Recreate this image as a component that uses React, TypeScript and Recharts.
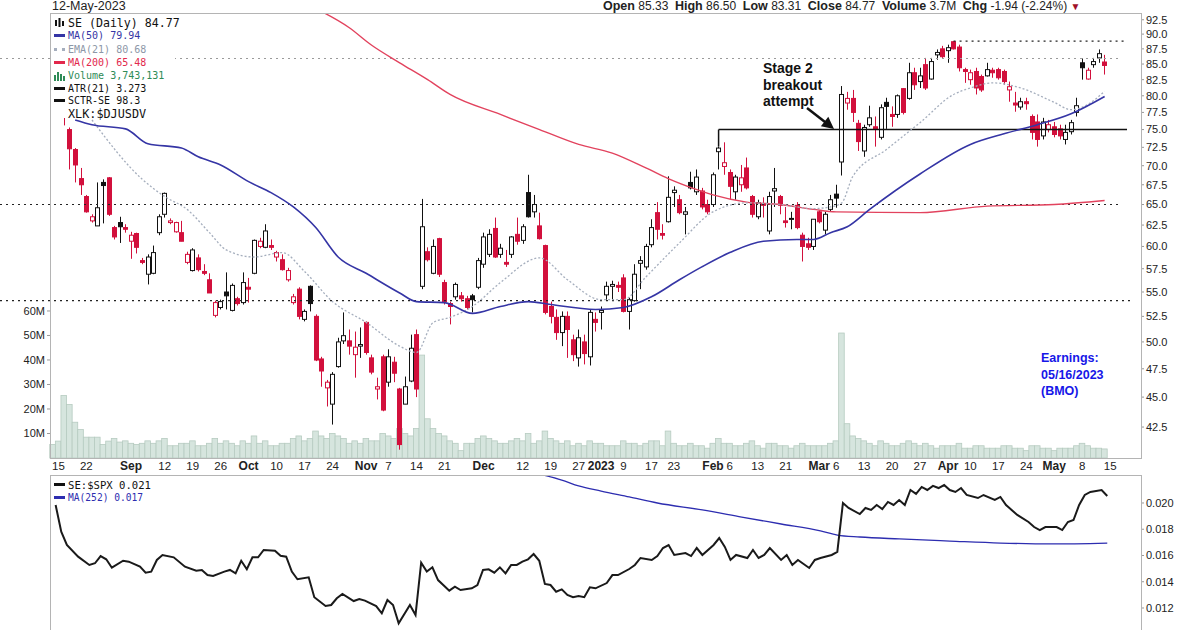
import React from 'react';
import { ComposedChart, LineChart, Bar, Line, XAxis, YAxis, ReferenceLine } from 'recharts';

const FONT = '"Liberation Sans", Arial, sans-serif';
const MONO = '"DejaVu Sans Mono", monospace';

// trading days shown on the chart (last six are the empty space to the right)
const monthDays: [string, number[]][] = [
  ['2022-08', [12, 15, 16, 17, 18, 19, 22, 23, 24, 25, 26, 29, 30, 31]],
  ['2022-09', [1, 2, 6, 7, 8, 9, 12, 13, 14, 15, 16, 19, 20, 21, 22, 23, 26, 27, 28, 29, 30]],
  ['2022-10', [3, 4, 5, 6, 7, 10, 11, 12, 13, 14, 17, 18, 19, 20, 21, 24, 25, 26, 27, 28, 31]],
  ['2022-11', [1, 2, 3, 4, 7, 8, 9, 10, 11, 14, 15, 16, 17, 18, 21, 22, 23, 25, 28, 29, 30]],
  ['2022-12', [1, 2, 5, 6, 7, 8, 9, 12, 13, 14, 15, 16, 19, 20, 21, 22, 23, 27, 28, 29, 30]],
  ['2023-01', [3, 4, 5, 6, 9, 10, 11, 12, 13, 17, 18, 19, 20, 23, 24, 25, 26, 27, 30, 31]],
  ['2023-02', [1, 2, 3, 6, 7, 8, 9, 10, 13, 14, 15, 16, 17, 21, 22, 23, 24, 27, 28]],
  ['2023-03', [1, 2, 3, 6, 7, 8, 9, 10, 13, 14, 15, 16, 17, 20, 21, 22, 23, 24, 27, 28, 29, 30, 31]],
  ['2023-04', [3, 4, 5, 6, 10, 11, 12, 13, 14, 17, 18, 19, 20, 21, 24, 25, 26, 27, 28]],
  ['2023-05', [1, 2, 3, 4, 5, 8, 9, 10, 11, 12, 15, 16, 17, 18, 19, 22]],
];

const opens = [
  88.0, 88.3, 83.0, 75.0, 72.2, 68.3, 66.0, 63.0, 62.4, 67.8,
  68.4, 62.2, 62.8, 62.2, 60.6, 61.5, 58.4, 56.9, 57.0, 61.6,
  63.8, 62.8, 61.7, 61.6, 58.2, 57.3, 58.7, 57.2, 56.3, 52.6,
  53.4, 55.0, 53.1, 54.3, 53.9, 55.5, 57.0, 60.0, 59.9, 60.1,
  58.8, 58.5, 56.3, 53.9, 55.3, 52.2, 55.6, 52.5, 48.4, 45.8,
  44.4, 47.7, 50.1, 50.1, 48.8, 49.6, 51.9, 48.5, 45.7, 48.6,
  46.3, 48.1, 45.7, 44.4, 46.4, 50.7, 55.6, 59.4, 57.0, 60.9,
  56.0, 53.8, 54.5, 54.6, 54.3, 54.6, 55.5, 58.0, 59.1, 62.1,
  59.1, 58.2, 59.1, 61.4, 60.7, 66.5, 64.1, 62.4, 60.1, 53.5,
  52.4, 50.9, 52.5, 50.2, 48.5, 50.0, 48.6, 52.2, 52.9, 54.7,
  55.6, 55.7, 56.5, 53.0, 54.1, 58.1, 57.7, 60.2, 64.0, 61.5,
  62.9, 66.5, 65.6, 63.8, 67.8, 66.6, 66.7, 65.0, 65.0, 71.9,
  69.9, 69.1, 66.6, 67.5, 69.7, 66.0, 63.5, 65.1, 61.8, 66.7,
  66.0, 63.0, 63.2, 64.9, 61.3, 60.3, 60.0, 64.1, 61.9, 64.4,
  66.3, 70.5, 78.9, 79.6, 75.9, 72.0, 75.7, 75.4, 73.9, 79.0,
  77.2, 77.2, 81.1, 79.6, 83.6, 82.2, 84.9, 82.6, 86.5, 87.5,
  87.2, 88.7, 87.8, 84.1, 82.5, 83.8, 83.0, 83.1, 84.0, 84.1,
  83.8, 80.9, 78.9, 78.3, 79.1, 76.9, 76.1, 74.1, 75.0, 75.4,
  75.1, 73.6, 74.7, 77.5, 85.2, 82.6, 84.9, 86.0, 85.33,
];

const highs = [
  89.3, 88.9, 84.0, 75.3, 72.4, 69.7, 66.2, 63.8, 67.8, 68.2,
  68.5, 62.4, 63.5, 62.6, 61.7, 61.6, 58.7, 59.1, 60.1, 63.8,
  66.5, 63.3, 62.9, 63.0, 59.4, 59.8, 59.1, 58.0, 57.0, 54.1,
  54.2, 57.1, 55.9, 54.5, 57.1, 56.5, 60.8, 61.0, 62.6, 60.8,
  59.5, 59.1, 57.6, 54.8, 55.5, 53.2, 55.7, 52.7, 48.6, 46.5,
  47.2, 50.4, 52.9, 51.2, 51.0, 51.4, 52.0, 48.8, 46.7, 48.8,
  49.3, 48.6, 45.8, 46.8, 50.7, 51.2, 65.7, 59.9, 60.8, 61.0,
  56.3, 54.0, 56.0, 55.0, 54.6, 54.8, 58.7, 61.6, 62.0, 63.4,
  60.3, 59.6, 61.2, 63.4, 62.6, 68.8, 66.2, 64.0, 60.2, 54.0,
  53.2, 53.0, 53.0, 50.7, 51.2, 50.7, 53.2, 52.9, 53.5, 56.1,
  56.2, 56.1, 56.9, 54.4, 58.0, 58.9, 60.3, 63.2, 65.3, 62.6,
  68.6, 67.3, 66.2, 64.7, 69.2, 69.5, 67.1, 65.6, 69.1, 72.6,
  73.2, 69.5, 68.8, 70.1, 71.1, 66.2, 65.6, 65.9, 66.6, 69.7,
  66.2, 64.7, 64.1, 65.3, 61.6, 61.0, 63.2, 64.3, 64.1, 66.2,
  67.5, 81.5, 80.6, 80.9, 76.4, 75.7, 78.5, 76.9, 78.7, 79.7,
  78.4, 80.2, 81.2, 85.2, 84.4, 84.4, 86.0, 86.0, 87.4, 88.0,
  88.2, 88.8, 88.2, 84.4, 84.1, 84.4, 83.3, 85.2, 84.4, 84.4,
  84.1, 82.2, 80.6, 79.7, 79.7, 77.2, 77.2, 76.7, 76.4, 76.1,
  75.7, 75.7, 76.4, 79.7, 85.9, 84.4, 86.0, 87.4, 86.5,
];

const lows = [
  86.9, 86.6, 75.6, 69.5, 67.8, 66.2, 64.0, 62.8, 62.4, 62.7,
  63.6, 60.8, 60.4, 61.6, 58.6, 59.2, 58.0, 55.8, 56.9, 61.3,
  63.4, 62.6, 61.6, 60.6, 58.0, 57.2, 57.2, 56.8, 54.9, 52.4,
  53.2, 53.2, 53.0, 53.6, 53.7, 53.9, 56.9, 59.8, 59.8, 59.6,
  58.3, 57.3, 56.1, 53.7, 52.2, 52.0, 53.0, 48.2, 45.9, 44.2,
  42.7, 47.6, 49.8, 48.8, 46.7, 48.5, 48.8, 47.0, 44.8, 43.8,
  45.9, 46.3, 40.7, 44.4, 46.3, 45.0, 55.3, 58.3, 56.9, 56.6,
  53.7, 51.7, 54.2, 54.0, 53.2, 52.9, 55.3, 57.6, 58.8, 58.7,
  58.7, 57.7, 58.7, 60.2, 60.3, 63.4, 63.4, 60.8, 52.7, 51.8,
  50.2, 49.6, 48.5, 48.2, 47.7, 47.9, 47.8, 51.0, 51.2, 54.2,
  54.2, 55.0, 52.9, 51.2, 54.0, 55.3, 57.4, 59.9, 60.8, 60.8,
  62.8, 64.7, 63.8, 61.4, 66.9, 66.2, 64.4, 63.8, 64.7, 69.5,
  68.8, 65.6, 65.6, 66.6, 66.9, 63.4, 63.2, 63.4, 61.4, 64.7,
  63.8, 62.2, 62.0, 62.0, 58.3, 59.6, 59.6, 62.7, 61.4, 64.1,
  64.6, 68.7, 77.9, 76.1, 72.0, 71.2, 75.4, 72.6, 73.6, 75.1,
  75.4, 76.7, 77.2, 79.4, 80.9, 81.2, 80.9, 82.5, 85.7, 86.0,
  85.2, 87.4, 83.8, 82.0, 81.7, 80.2, 80.6, 83.0, 82.8, 82.5,
  81.7, 79.1, 77.6, 77.9, 77.9, 73.6, 72.6, 73.6, 74.6, 73.9,
  73.6, 72.9, 74.3, 76.9, 82.5, 82.5, 84.4, 85.2, 83.31,
];

const closes = [
  88.6, 87.2, 77.0, 72.3, 70.1, 67.5, 64.1, 63.5, 64.6, 67.4,
  63.8, 61.1, 62.3, 62.0, 61.3, 59.9, 58.2, 58.8, 59.3, 63.5,
  66.4, 63.0, 62.8, 60.6, 59.1, 59.6, 57.4, 57.0, 54.9, 53.9,
  54.0, 54.6, 55.7, 53.8, 56.0, 55.3, 60.7, 60.6, 61.8, 59.9,
  59.3, 57.4, 57.3, 54.5, 52.5, 53.0, 53.8, 48.3, 47.3, 46.3,
  47.0, 50.0, 50.6, 49.6, 49.5, 49.75, 49.0, 47.2, 45.9, 43.9,
  48.6, 47.1, 41.1, 45.9, 49.4, 45.7, 62.3, 58.5, 60.0, 56.9,
  54.0, 53.5, 55.8, 54.3, 53.4, 54.2, 58.4, 61.1, 61.4, 58.8,
  59.8, 58.0, 61.1, 60.6, 62.3, 63.5, 65.0, 60.9, 52.9, 52.5,
  50.9, 52.5, 51.2, 48.8, 50.4, 48.9, 52.9, 51.9, 53.1, 55.6,
  55.8, 55.5, 53.0, 54.2, 56.9, 58.4, 60.0, 62.2, 62.0, 61.3,
  65.9, 66.8, 64.0, 64.1, 67.1, 68.5, 64.7, 64.1, 68.8, 72.4,
  70.4, 67.3, 68.5, 68.4, 67.1, 63.8, 65.2, 64.9, 66.0, 67.0,
  64.9, 62.8, 63.3, 62.2, 60.0, 59.9, 63.2, 62.9, 63.8, 65.6,
  65.8, 80.2, 79.6, 77.5, 73.3, 75.3, 76.7, 75.1, 78.2, 78.4,
  76.9, 80.0, 77.5, 83.6, 81.7, 83.1, 81.2, 85.4, 86.9, 86.2,
  87.7, 87.5, 84.4, 83.8, 83.6, 81.2, 80.9, 84.1, 83.6, 82.8,
  82.2, 81.4, 78.6, 79.1, 78.8, 74.6, 73.6, 76.1, 75.7, 74.3,
  74.1, 74.6, 76.0, 78.5, 84.4, 84.0, 85.4, 86.7, 84.77,
];

// volume in millions of shares
const volumesM = [
  5.5, 6.9, 25.5, 21.8, 14.6, 11.6, 8.5, 8.5, 8.5, 5.5,
  6.9, 8, 6.5, 7, 6, 5.5, 6, 7, 6, 7,
  8, 5, 5, 6, 6, 7, 5, 5, 6, 8,
  6, 7, 6, 5, 7, 6, 9, 6, 7, 5,
  5, 6, 6, 8, 9, 7, 8, 11, 9, 8,
  10, 9, 8, 6, 7, 6, 8, 7, 7, 10,
  9, 8, 12, 10, 9, 12, 42, 16, 12, 10,
  9, 7, 6, 3, 6, 6, 8, 9, 8, 7,
  6, 6, 7, 8, 7, 10, 6, 7, 11, 8,
  7, 6, 7, 5, 6, 5, 7, 6, 6, 5,
  5, 5, 7, 6, 6, 5, 6, 7, 7, 5,
  11, 6, 5, 5, 6, 5, 5, 4, 6, 8,
  6, 6, 5, 5, 6, 7, 5, 4, 6, 6,
  5, 5, 4, 5, 6, 5, 5, 5, 5, 6,
  7, 51, 14, 9, 8, 7, 6, 5, 7, 6,
  5, 5, 6, 7, 6, 5, 6, 5, 4, 5,
  5, 5, 6, 4, 4, 5, 5, 4, 4, 4,
  5, 5, 4, 4, 3, 5, 5, 4, 4, 3,
  4, 4, 4, 5, 6, 5, 4, 4, 3.7,
];

// overlays read at [trading-day number, value]
const ma50Points: [number, number][] = [
  [4, 76.4], [7, 75.7], [13, 75.1], [17, 73.0], [23, 72.4], [26, 71.2], [30, 70.1], [35, 67.9],
  [39, 66.5], [43, 64.7], [47, 62.2], [51, 58.8], [56, 57.0], [62, 54.9], [65, 54.0], [70, 53.9],
  [75, 52.8], [80, 53.5], [85, 54.0], [89, 53.7], [97, 53.2], [102, 53.4], [107, 54.5], [112, 56.3],
  [116, 57.7], [121, 59.3], [127, 60.6], [133, 60.8], [136, 60.8], [139, 61.6], [142, 62.3],
  [146, 64.4], [155, 68.9], [164, 72.9], [170, 74.4], [176, 75.7], [182, 77.3], [188, 79.9],
];
const ema21Points: [number, number][] = [
  [7, 76.4], [16, 68.2], [20, 66.0], [24, 64.4], [28, 61.6], [31, 59.6], [36, 58.8], [41, 59.3],
  [45, 57.2], [50, 54.0], [56, 51.9], [62, 49.6], [65, 49.0], [68, 51.9], [71, 52.4], [75, 53.5],
  [80, 56.0], [87, 58.7], [92, 56.3], [98, 54.2], [102, 54.2], [106, 56.6], [112, 60.4], [118, 64.1],
  [124, 65.2], [130, 65.0], [136, 64.5], [139, 64.7], [141, 65.2], [143, 68.6], [149, 72.2],
  [155, 76.0], [161, 80.2], [164, 81.2], [168, 82.0], [173, 81.2], [179, 79.0], [182, 77.9],
  [185, 78.7], [188, 80.7],
];
const ma200Points: [number, number][] = [
  [46, 95.0], [53, 91.1], [57, 88.1], [62, 85.2], [67, 82.5], [71, 80.2], [80, 77.2], [87, 75.0],
  [94, 72.9], [100, 71.7], [106, 69.7], [110, 68.3], [115, 66.9], [118, 66.2], [124, 65.3],
  [130, 65.0], [136, 64.4], [140, 64.1], [155, 64.0], [167, 64.8], [179, 65.0], [188, 65.5],
];
const ratioPoints: [number, number][] = [
  [1, 0.01985], [2, 0.01781], [3, 0.0168], [5, 0.01591], [7, 0.01528], [8, 0.01541], [9, 0.01596],
  [10, 0.01571], [11, 0.01507], [13, 0.0156], [14, 0.01553], [16, 0.01515], [17, 0.01469],
  [18, 0.01477], [19, 0.01566], [20, 0.01604], [22, 0.01586], [24, 0.01515], [26, 0.01484],
  [27, 0.0149], [28, 0.01451], [29, 0.01444], [31, 0.01477], [32, 0.0149], [33, 0.01464],
  [34, 0.0156], [35, 0.01495], [36, 0.01586], [37, 0.01586], [38, 0.01642], [40, 0.01637],
  [41, 0.01598], [42, 0.01591], [43, 0.01477], [44, 0.01419], [46, 0.01434], [47, 0.01282],
  [49, 0.01215], [50, 0.01223], [51, 0.01274], [52, 0.01307], [54, 0.01253], [55, 0.01269],
  [56, 0.01256], [58, 0.01215], [59, 0.0116], [60, 0.01261], [61, 0.01223], [62, 0.01083],
  [64, 0.01223], [65, 0.01147], [66, 0.01545], [67, 0.01477], [68, 0.0151], [69, 0.01413],
  [71, 0.01332], [72, 0.01362], [73, 0.01337], [75, 0.0135], [76, 0.01375], [77, 0.0149],
  [78, 0.01495], [79, 0.01469], [80, 0.0151], [81, 0.01464], [82, 0.01528], [83, 0.01528],
  [84, 0.01553], [85, 0.01571], [86, 0.01611], [87, 0.0156], [88, 0.01383], [89, 0.01375],
  [90, 0.01324], [91, 0.01342], [92, 0.01299], [93, 0.01282], [94, 0.01291], [95, 0.01282],
  [96, 0.01358], [97, 0.0135], [99, 0.0139], [100, 0.01451], [101, 0.01451], [103, 0.01497],
  [104, 0.01528], [105, 0.01581], [107, 0.01566], [108, 0.01596], [109, 0.01657], [110, 0.0168],
  [111, 0.01604], [113, 0.01619], [114, 0.01596], [115, 0.01657], [116, 0.01604], [118, 0.0168],
  [119, 0.01733], [120, 0.01665], [121, 0.01566], [122, 0.01604], [124, 0.01581], [125, 0.01642],
  [126, 0.01581], [127, 0.01604], [128, 0.01657], [130, 0.01566], [131, 0.01604], [132, 0.01528],
  [133, 0.01566], [135, 0.01505], [136, 0.01566], [137, 0.01581], [139, 0.01604], [140, 0.01627],
  [141, 0.02], [142, 0.01962], [144, 0.01916], [145, 0.01962], [146, 0.01947], [147, 0.01985],
  [148, 0.01954], [149, 0.02008], [150, 0.01985], [151, 0.02023], [152, 0.01985], [153, 0.02099],
  [154, 0.02069], [155, 0.02122], [156, 0.02099], [157, 0.0213], [158, 0.02114], [159, 0.02137],
  [160, 0.02099], [161, 0.02084], [162, 0.02114], [163, 0.02061], [165, 0.02038], [166, 0.02061],
  [168, 0.02023], [169, 0.02046], [170, 0.01985], [171, 0.01947], [172, 0.01909], [174, 0.01855],
  [175, 0.01817], [176, 0.01794], [177, 0.01817], [179, 0.01817], [180, 0.01794], [181, 0.01855],
  [182, 0.0187], [183, 0.01985], [184, 0.02061], [185, 0.02084], [187, 0.02099], [188, 0.02053],
];
const ma252Points: [number, number][] = [
  [86, 0.0223], [91, 0.02175], [94, 0.0213], [98, 0.02091], [103, 0.02046], [108, 0.02],
  [116, 0.01947], [123, 0.01893], [130, 0.0184], [137, 0.01787], [140, 0.01756], [144, 0.01741],
  [151, 0.01726], [160, 0.0171], [169, 0.01695], [178, 0.01688], [188, 0.01695],
];

const priceTicks = [42.5, 45, 47.5, 50, 52.5, 55, 57.5, 60, 62.5, 65, 67.5, 70, 72.5, 75, 77.5, 80, 82.5, 85, 87.5, 90, 92.5];
const volumeTicks = [10, 20, 30, 40, 50, 60];
const ratioTicks = [0.012, 0.014, 0.016, 0.018, 0.02];

const xLabels: [string, string, boolean][] = [
  ['2022-08-15', '15', false], ['2022-08-22', '22', false], ['2022-09-01', 'Sep', true],
  ['2022-09-12', '12', false], ['2022-09-19', '19', false], ['2022-09-26', '26', false],
  ['2022-10-03', 'Oct', true], ['2022-10-10', '10', false], ['2022-10-17', '17', false],
  ['2022-10-24', '24', false], ['2022-11-01', 'Nov', true], ['2022-11-07', '7', false],
  ['2022-11-14', '14', false], ['2022-11-21', '21', false], ['2022-12-01', 'Dec', true],
  ['2022-12-12', '12', false], ['2022-12-19', '19', false], ['2022-12-27', '27', false],
  ['2023-01-03', '2023', true], ['2023-01-09', '9', false], ['2023-01-17', '17', false],
  ['2023-01-23', '23', false], ['2023-02-01', 'Feb', true], ['2023-02-06', '6', false],
  ['2023-02-13', '13', false], ['2023-02-21', '21', false], ['2023-03-01', 'Mar', true],
  ['2023-03-06', '6', false], ['2023-03-13', '13', false], ['2023-03-20', '20', false],
  ['2023-03-27', '27', false], ['2023-04-03', 'Apr', true], ['2023-04-10', '10', false],
  ['2023-04-17', '17', false], ['2023-04-24', '24', false], ['2023-05-01', 'May', true],
  ['2023-05-08', '8', false], ['2023-05-15', '15', false],
];

const dates = monthDays.flatMap(([m, ds]) => ds.map(d => `${m}-${String(d).padStart(2, '0')}`));

const rows: any[] = dates.map((date, i) => ({
  date,
  open: opens[i] ?? null,
  high: highs[i] ?? null,
  low: lows[i] ?? null,
  close: closes[i] ?? null,
  prevClose: i > 0 ? closes[i - 1] : opens[0],
  volume: volumesM[i] ?? null,
  ma50: null, ema21: null, ma200: null, ratio: null, ma252: null,
}));
ma50Points.forEach(([i, v]) => { rows[i].ma50 = v; });
ema21Points.forEach(([i, v]) => { rows[i].ema21 = v; });
ma200Points.forEach(([i, v]) => { rows[i].ma200 = v; });
ratioPoints.forEach(([i, v]) => { rows[i].ratio = v; });
ma252Points.forEach(([i, v]) => { rows[i].ma252 = v; });

const labelMap: Record<string, { text: string; bold: boolean }> = {};
xLabels.forEach(([d, t, b]) => { labelMap[d] = { text: t, bold: b }; });
const tickDates = xLabels.map(l => l[0]);

const RED = '#d2103c';

const Candle = (props: any) => {
  const { x, y, width, height, payload } = props;
  if (!payload || payload.open == null || height == null) return null;
  const { open, close, high, low, prevClose } = payload;
  const top = Math.min(y, y + height);
  const h = Math.abs(height);
  const span = Math.log(high) - Math.log(low) || 1;
  const py = (p: number) => top + (h * (Math.log(high) - Math.log(p))) / span;
  const color = close >= prevClose ? '#111' : RED;
  const hollow = close > open;
  const cx = Math.round(x + width / 2) + 0.5;
  const bTop = py(Math.max(open, close));
  const bBot = py(Math.min(open, close));
  return (
    <g>
      <line x1={cx} x2={cx} y1={top} y2={top + h} stroke={color} strokeWidth={1} />
      <rect x={cx - 2} y={bTop} width={4} height={Math.max(1, bBot - bTop)} fill={hollow ? '#fff' : color} stroke={color} strokeWidth={1} />
    </g>
  );
};

const VolumeBar = (props: any) => {
  const { x, y, width, height } = props;
  if (!height) return null;
  const cx = x + width / 2;
  return <rect x={cx - 2.8} y={y} width={5.6} height={height} fill="#d6e5de" stroke="#b6cbc0" strokeWidth={0.8} />;
};

const DateTick = (props: any) => {
  const { x, y, payload } = props;
  const lab = labelMap[payload.value];
  if (!lab) return null;
  return (
    <text x={x} y={y + 12} textAnchor="middle" fontFamily={FONT} fontSize={lab.bold ? 12 : 11.5}
      fontWeight={lab.bold ? 700 : 400} fill="#222">{lab.text}</text>
  );
};

// dotted guide lines that run in from the left edge of the picture
const LeftExtended = (stroke: string, dash: string) => (p: any) => (
  <line x1={0} y1={p.y1} x2={p.x2} y2={p.y2} stroke={stroke} strokeWidth={1.2} strokeDasharray={dash} />
);

const candleRange = (d: any) => (d.high == null ? null : [d.low, d.high]);

const legendRow = (top: number, color: string, text: string, swatch: React.ReactNode, size = 10) => (
  <div style={{ position: 'absolute', left: 3, top, height: 13, display: 'flex', alignItems: 'center' }}>
    <div style={{ width: 14 }}>{swatch}</div>
    <span style={{ fontFamily: MONO, fontSize: size, color, whiteSpace: 'nowrap' }}>{text}</span>
  </div>
);

const dash = (color: string, dotted = false) => (
  <div style={{ width: 11, height: 0, borderTop: `3px ${dotted ? 'dotted' : 'solid'} ${color}` }} />
);

const lbl = { fontSize: 12.5, fontWeight: 700 } as const;

export default function App() {
  return (
    <div style={{ position: 'absolute', left: 0, top: 0, width: 1200, height: 630, overflow: 'hidden', background: '#fff', fontFamily: FONT }}>
      {/* volume layer */}
      <div style={{ position: 'absolute', left: 0, top: 0 }}>
        <ComposedChart width={1200} height={475} data={rows} margin={{ top: 13, right: 59, bottom: 17, left: 0 }}>
          <XAxis dataKey="date" hide />
          <YAxis yAxisId="vol" orientation="left" width={50} domain={[0, 181.6]} ticks={volumeTicks} interval={0}
            tickFormatter={(v: number) => `${v}M`} axisLine={false} tickSize={3} tickMargin={2}
            tickLine={{ stroke: '#999' }} tick={{ fontSize: 11, fill: '#222', fontFamily: FONT }} />
          <Bar yAxisId="vol" dataKey="volume" shape={VolumeBar} isAnimationActive={false} />
        </ComposedChart>
      </div>

      {/* price layer */}
      <div style={{ position: 'absolute', left: 0, top: 0 }}>
        <ComposedChart width={1200} height={475} data={rows} margin={{ top: 13, right: 0, bottom: 0, left: 50 }}>
          <XAxis dataKey="date" ticks={tickDates} interval={0} height={17} tick={DateTick}
            tickLine={false} axisLine={false} tickSize={0} tickMargin={0} />
          <YAxis yAxisId="price" orientation="right" width={59} scale="log" domain={[40.06, 93.7]} allowDataOverflow
            ticks={priceTicks} interval={0} tickFormatter={(v: number) => v.toFixed(1)} axisLine={false} tickSize={3} tickMargin={2}
            tickLine={{ stroke: '#999' }} tick={{ fontSize: 11, fill: '#222', fontFamily: FONT }} />
          <ReferenceLine yAxisId="price" segment={[{ x: dates[0], y: 85.9 }, { x: dates[191], y: 85.9 }]}
            shape={LeftExtended('#9a9a9a', '2 4')} />
          <ReferenceLine yAxisId="price" segment={[{ x: dates[0], y: 65.0 }, { x: dates[191], y: 65.0 }]}
            shape={LeftExtended('#222', '2 4')} />
          <ReferenceLine yAxisId="price" segment={[{ x: dates[0], y: 54.1 }, { x: dates[193], y: 54.1 }]}
            shape={LeftExtended('#222', '2 4')} />
          <ReferenceLine yAxisId="price" segment={[{ x: dates[161], y: 88.8 }, { x: dates[192], y: 88.8 }]}
            stroke="#222" strokeWidth={1.2} strokeDasharray="2 4" />
          <ReferenceLine yAxisId="price" segment={[{ x: dates[119], y: 75.0 }, { x: dates[192], y: 75.0 }]}
            stroke="#111" strokeWidth={1.5} />
          <ReferenceLine yAxisId="price" segment={[{ x: dates[119], y: 75.0 }, { x: dates[119], y: 72.6 }]}
            stroke="#111" strokeWidth={1.5} />
          <Line yAxisId="price" dataKey="ma200" stroke="#e2435e" strokeWidth={1.4} dot={false} connectNulls type="monotone" isAnimationActive={false} />
          <Line yAxisId="price" dataKey="ema21" stroke="#a5aebd" strokeWidth={1.3} strokeDasharray="2 2" dot={false} connectNulls type="monotone" isAnimationActive={false} />
          <Line yAxisId="price" dataKey="ma50" stroke="#3535a5" strokeWidth={1.6} dot={false} connectNulls type="monotone" isAnimationActive={false} />
          <Bar yAxisId="price" dataKey={candleRange} shape={Candle} isAnimationActive={false} />
        </ComposedChart>
      </div>

      {/* relative strength panel */}
      <div style={{ position: 'absolute', left: 0, top: 475 }}>
        <LineChart width={1200} height={175} data={rows} margin={{ top: 0, right: 0, bottom: 0, left: 50 }}>
          <XAxis dataKey="date" hide />
          <YAxis orientation="right" width={59} domain={[0.0088, 0.022133]} allowDataOverflow ticks={ratioTicks} interval={0}
            tickFormatter={(v: number) => v.toFixed(3)} axisLine={false} tickSize={3} tickMargin={2}
            tickLine={{ stroke: '#999' }} tick={{ fontSize: 11, fill: '#222', fontFamily: FONT }} />
          <Line dataKey="ma252" stroke="#2d2db0" strokeWidth={1.3} dot={false} connectNulls type="monotone" isAnimationActive={false} />
          <Line dataKey="ratio" stroke="#1a1a1a" strokeWidth={2} dot={false} connectNulls isAnimationActive={false} />
        </LineChart>
      </div>

      {/* panel frames */}
      <div style={{ position: 'absolute', left: 50, top: 13, width: 1092, height: 446, border: '1px solid #b4b4b4', boxSizing: 'border-box', pointerEvents: 'none' }} />
      <div style={{ position: 'absolute', left: 50, top: 475, width: 1092, height: 200, border: '1px solid #b4b4b4', boxSizing: 'border-box', pointerEvents: 'none' }} />

      {/* header */}
      <div style={{ position: 'absolute', left: 52, top: 0, fontSize: 12.5, lineHeight: '12px', color: '#222' }}>12-May-2023</div>
      <div style={{ position: 'absolute', left: 603, top: 0, fontSize: 12, lineHeight: '12px', color: '#222', whiteSpace: 'nowrap' }}>
        <span style={lbl}>Open</span> 85.33&nbsp; <span style={lbl}>High</span> 86.50&nbsp; <span style={lbl}>Low</span> 83.31&nbsp;{' '}
        <span style={lbl}>Close</span> 84.77&nbsp; <span style={lbl}>Volume</span> 3.7M&nbsp; <span style={lbl}>Chg</span> -1.94 (-2.24%){' '}
        <span style={{ color: '#a01028', fontSize: 10 }}>▼</span>
      </div>

      {/* price legend */}
      <div style={{ position: 'absolute', left: 51, top: 14, width: 124, height: 104, background: '#fff' }}>
        {legendRow(2, '#111', 'SE (Daily) 84.77', (
          <svg width={11} height={10}><rect x={1} y={2} width={2} height={6} fill="#111" /><rect x={4.5} y={0} width={2} height={9} fill="#111" /><rect x={8} y={3} width={2} height={5} fill="#111" /></svg>
        ), 11.6)}
        {legendRow(15, '#3535a5', 'MA(50) 79.94', dash('#3535a5'))}
        {legendRow(29, '#8d97a7', 'EMA(21) 80.68', dash('#a5aebd', true))}
        {legendRow(42, '#e2284c', 'MA(200) 65.48', dash('#e2284c'))}
        {legendRow(55, '#2e8b57', 'Volume 3,743,131', (
          <svg width={11} height={10}><rect x={0} y={4} width={2} height={6} fill="#2e8b57" /><rect x={3} y={1} width={2} height={9} fill="#2e8b57" /><rect x={6} y={3} width={2} height={7} fill="#2e8b57" /><rect x={9} y={5} width={2} height={5} fill="#2e8b57" /></svg>
        ))}
        {legendRow(68, '#111', 'ATR(21) 3.273', dash('#111'))}
        {legendRow(80, '#111', 'SCTR-SE 98.3', dash('#111'))}
        {legendRow(93, '#111', 'XLK:$DJUSDV', null, 11.8)}
      </div>

      {/* annotations */}
      <div style={{ position: 'absolute', left: 763, top: 60, fontWeight: 700, fontSize: 14, lineHeight: '16.5px', color: '#111' }}>
        Stage 2<br />breakout<br />attempt
      </div>
      <svg style={{ position: 'absolute', left: 0, top: 0 }} width={1200} height={630} pointerEvents="none">
        <line x1={807} y1={108} x2={825} y2={122} stroke="#111" strokeWidth={2.5} />
        <polygon points="834,129 820.9,126.2 828.3,116.8" fill="#111" />
      </svg>
      <div style={{ position: 'absolute', left: 1041, top: 350, fontWeight: 700, fontSize: 12.5, lineHeight: '16.5px', color: '#1616e8' }}>
        Earnings:<br />05/16/2023<br />(BMO)
      </div>

      {/* relative strength legend */}
      <div style={{ position: 'absolute', left: 51, top: 478, width: 200, height: 30 }}>
        {legendRow(0, '#111', 'SE:$SPX 0.021', dash('#111'), 10.6)}
        {legendRow(13, '#2d2db0', 'MA(252) 0.017', dash('#2d2db0'), 9.6)}
      </div>
    </div>
  );
}
